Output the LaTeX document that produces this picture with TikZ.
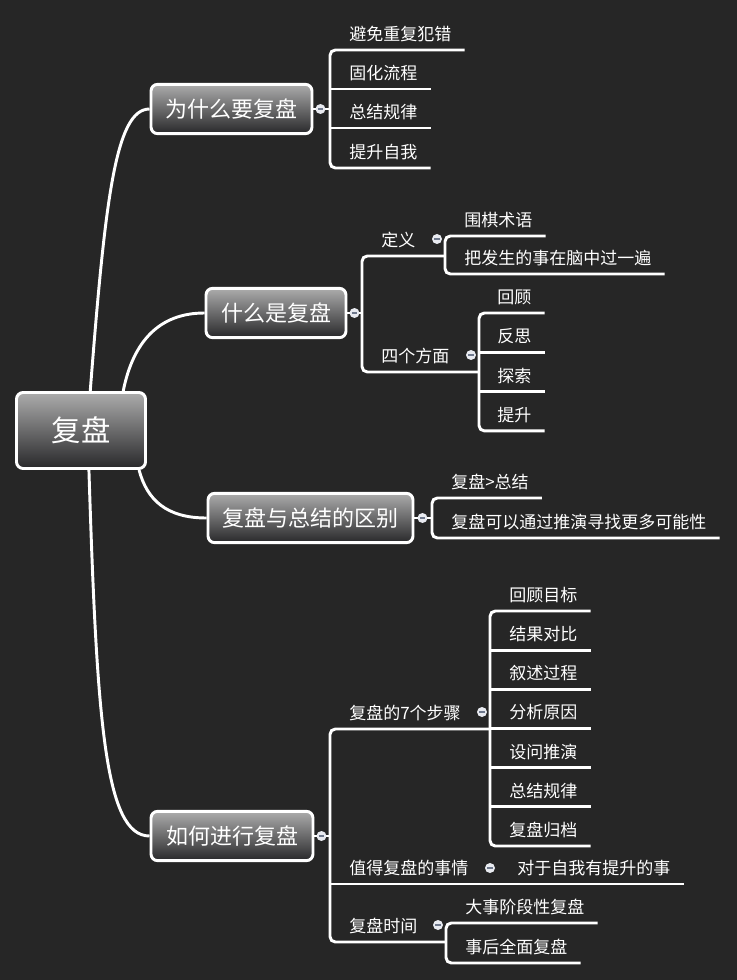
\documentclass[tikz,border=0pt]{standalone}
\usepackage{fontspec}
\setmainfont{Noto Sans CJK SC}
\usetikzlibrary{calc}
\definecolor{bgdark}{RGB}{38,38,38}
\definecolor{boxtop}{RGB}{172,172,172}
\definecolor{boxbottom}{RGB}{40,40,42}
\definecolor{dotfill}{RGB}{232,234,240}
\definecolor{dotbar}{RGB}{110,120,140}
\tikzset{
  topic/.style={draw=white, line width=2.2pt, rounded corners=5pt, top color=boxtop, bottom color=boxbottom,
    text=white, font=\fontsize{16.5}{20}\selectfont, minimum height=37pt, inner sep=0pt},
  leaf/.style={text=white, font=\fontsize{12.75}{15}\selectfont, inner xsep=9.75pt, inner ysep=0pt,
    text depth=7pt, anchor=south west},
  link/.style={white, line width=2.2pt},
  bracket/.style={link, rounded corners=4pt},
  fold/.style={circle, fill=dotfill, inner sep=0pt, minimum size=7.5pt,
    path picture={\draw[dotbar, line width=0.8pt] ([xshift=-2pt]path picture bounding box.center) -- ([xshift=2pt]path picture bounding box.center);}}
}
\begin{document}
\begin{tikzpicture}[x=0.75pt,y=-0.75pt]
\useasboundingbox (0,0) rectangle (737,980);
\fill[bgdark] (0,0) rectangle (737,980);

% central topic and main branches
\node[topic, font=\fontsize{22}{26}\selectfont, minimum width=96.75pt, minimum height=57pt] (root) at (81,430.5) {复盘};
\node[topic, minimum width=120.75pt] (why) at (231.5,109) {为什么要复盘};
\node[topic, minimum width=105pt] (what) at (276,313) {什么是复盘};
\node[topic, minimum width=153.75pt] (diff) at (310.5,518) {复盘与总结的区别};
\node[topic, minimum width=121.5pt] (how) at (232,836) {如何进行复盘};

\draw[link] ($(root.north west)!0.57!(root.north east)$) .. controls +(15,-192) and +(-34,0) .. (why.west);
\draw[link] ($(root.north west)!0.82!(root.north east)$) .. controls +(10,-50) and +(-45,0) .. (what.west);
\draw[link] ($(root.south west)!0.94!(root.south east)$) .. controls +(8,30) and +(-40,0) .. (diff.west);
\draw[link] ($(root.south west)!0.56!(root.south east)$) .. controls +(8,250) and +(-45,0) .. (how.west);

% 为什么要复盘
\coordinate (k1) at (330,109);
\node[leaf] (w1) at (336,50) {避免重复犯错};
\node[leaf] (w2) at (336,89) {固化流程};
\node[leaf] (w3) at (336,128) {总结规律};
\node[leaf] (w4) at (336,168) {提升自我};
\draw[link] (why.east) -- (k1);
\draw[bracket] (w1.south east) -- (w1.south east -| k1) -- (w4.south east -| k1) -- (w4.south east);
\foreach \n in {w2,w3} \draw[link] (\n.south east -| k1) -- (\n.south east);
\node[fold] (f1) at ($(why.east)+(7,0)$) {};

% 什么是复盘
\coordinate (k2) at (362,313);
\coordinate (k21) at (445,256);
\coordinate (k22) at (479,372);
\node[leaf] (d1) at (368,256) {定义};
\node[leaf] (d11) at (451,236) {围棋术语};
\node[leaf] (d12) at (451,274) {把发生的事在脑中过一遍};
\node[leaf] (d2) at (368,372) {四个方面};
\foreach \t [count=\i] in {回顾,反思,探索,提升}
  \node[leaf] (a\i) at (484,{313+39.3*(\i-1)}) {\t};
\draw[link] (what.east) -- (k2);
\draw[bracket] (k21) -- (d1.south west -| k2) -- (d2.south west -| k2) -- (k22);
\draw[bracket] (d11.south east) -- (d11.south east -| k21) -- (d12.south east -| k21) -- (d12.south east);
\draw[bracket] (a1.south east) -- (a1.south east -| k22) -- (a4.south east -| k22) -- (a4.south east);
\foreach \i in {2,3} \draw[link] (a\i.south east -| k22) -- (a\i.south east);
\node[fold] (f2) at ($(what.east)+(7,0)$) {};
\node[fold] (f21) at ($(k21)+(-8,-17)$) {};
\node[fold] (f22) at ($(k22)+(-8,-17)$) {};

% 复盘与总结的区别
\coordinate (k3) at (432,518);
\node[leaf] (c1) at (438,498) {复盘>总结};
\node[leaf] (c2) at (438,538) {复盘可以通过推演寻找更多可能性};
\draw[link] (diff.east) -- (k3);
\draw[bracket] (c1.south east) -- (c1.south east -| k3) -- (c2.south east -| k3) -- (c2.south east);
\node[fold] (f3) at ($(diff.east)+(8,0)$) {};

% 如何进行复盘
\coordinate (k4) at (330,836);
\coordinate (k41) at (490,729);
\coordinate (k43) at (446,942);
\node[leaf] (m1) at (336,729) {复盘的7个步骤};
\node[leaf] (m2) at (336,884) {值得复盘的事情};
\node[leaf] (m2c) at (504,884) {对于自我有提升的事};
\node[leaf] (m3) at (336,942) {复盘时间};
\foreach \t [count=\i] in {回顾目标,结果对比,叙述过程,分析原因,设问推演,总结规律,复盘归档}
  \node[leaf] (s\i) at (496,{611+39.17*(\i-1)}) {\t};
\node[leaf] (t1) at (452,923) {大事阶段性复盘};
\node[leaf] (t2) at (452,963) {事后全面复盘};
\draw[link] (how.east) -- (k4);
\draw[bracket] (k41) -- (m1.south west -| k4) -- (m3.south west -| k4) -- (k43);
\draw[link] (m2.south west -| k4) -- (m2c.south east);
\draw[bracket] (s1.south east) -- (s1.south east -| k41) -- (s7.south east -| k41) -- (s7.south east);
\foreach \i in {2,...,6} \draw[link] (s\i.south east -| k41) -- (s\i.south east);
\draw[bracket] (t1.south east) -- (t1.south east -| k43) -- (t2.south east -| k43) -- (t2.south east);
\node[fold] (f4) at ($(how.east)+(7,0)$) {};
\node[fold] (f41) at ($(k41)+(-8,-17)$) {};
\node[fold] (f42) at ($(m2c.south west)+(-14,-16)$) {};
\node[fold] (f43) at ($(k43)+(-8,-17)$) {};
\end{tikzpicture}
\end{document}
